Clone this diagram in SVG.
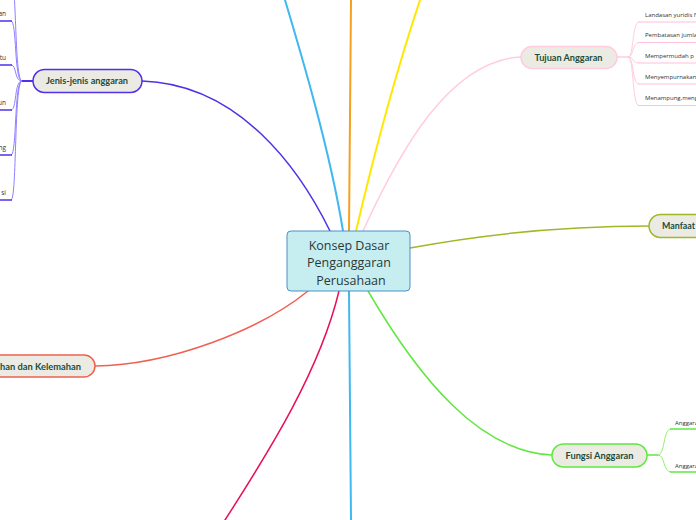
<svg xmlns="http://www.w3.org/2000/svg" width="696" height="520" viewBox="0 0 696 520">
<style>
.conn{fill:none;stroke-linecap:round}
.node rect{fill:#ebebe3;stroke-width:1.5}
.lbl{font-family:Lato,"Open Sans",sans-serif;font-weight:bold;font-size:9px;fill:#1d4d3c;text-anchor:middle}
.sub{font-family:"Open Sans","Liberation Sans",sans-serif;font-size:6px;fill:#333}
.center{font-family:"Open Sans","Liberation Sans",sans-serif;font-size:12.5px;fill:#2b3838;text-anchor:middle}
</style>
<rect width="696" height="520" fill="#ffffff"/>
<g id="connectors">
  <path class="conn" d="M330,231 C300,170 240,84 142,81" stroke="#5030e8" stroke-width="1.5"/>
  <path class="conn" d="M343,231 C330,150 300,50 285,0" stroke="#40b8f0" stroke-width="2"/>
  <path class="conn" d="M349,231 L351,0" stroke="#f5a020" stroke-width="2"/>
  <path class="conn" d="M356,231 C375,150 400,60 420,0" stroke="#ffe800" stroke-width="2"/>
  <path class="conn" d="M363,231 C400,150 450,60 521,57" stroke="#ffcce0" stroke-width="1.5"/>
  <path class="conn" d="M410,248 C480,235 560,226 649,226" stroke="#a0b828" stroke-width="1.5"/>
  <path class="conn" d="M368,291 C420,380 480,452 552,455" stroke="#60e840" stroke-width="1.5"/>
  <path class="conn" d="M308,291 C260,330 170,365 95,366" stroke="#f06050" stroke-width="1.5"/>
  <path class="conn" d="M339,291 C320,370 270,450 225,520" stroke="#e8105a" stroke-width="1.5"/>
  <path class="conn" d="M349,291 L351,520" stroke="#40b8f0" stroke-width="2"/>
  <!-- Jenis children -->
  <path class="conn" d="M33,81 L22,81" stroke="#5030e8" stroke-width="2"/>
  <g stroke="#8f80ff" stroke-width="1" fill="none">
    <path d="M22,81 C14,81 17,-30 10,-30"/>
    <path d="M22,81 C14,81 17,21 11,21"/>
    <path d="M22,81 C14,81 17,65 11,65"/>
    <path d="M22,81 C14,81 17,110 11,110"/>
    <path d="M22,81 C14,81 17,155 11,155"/>
    <path d="M22,81 C14,81 17,200 11,200"/>
  </g>
  <g stroke="#5030e8" stroke-width="1.5" fill="none">
    <path d="M0,21 H12"/><path d="M0,65 H12"/><path d="M0,110 H12"/><path d="M0,155 H12"/><path d="M0,200 H12"/>
  </g>
  <!-- Tujuan children -->
  <path class="conn" d="M617,57 L628,57" stroke="#ffcce0" stroke-width="1.5"/>
  <g stroke="#ffcce0" stroke-width="1" fill="none">
    <path d="M628,57 C634,57 632,22 639,22"/>
    <path d="M628,57 C634,57 632,42.5 639,42.5"/>
    <path d="M628,57 C634,57 632,63 639,63"/>
    <path d="M628,57 C634,57 632,84 639,84"/>
    <path d="M628,57 C634,57 632,105.5 639,105.5"/>
  </g>
  <g stroke="#ffc0dc" stroke-width="1.2" fill="none">
    <path d="M638,22 H696"/><path d="M638,42.5 H696"/><path d="M638,63 H696"/><path d="M638,84 H696"/><path d="M638,105.5 H696"/>
  </g>
  <!-- Fungsi children -->
  <path class="conn" d="M647,455 L658,455" stroke="#60e840" stroke-width="1.5"/>
  <g stroke="#90f070" stroke-width="1" fill="none">
    <path d="M658,455 C665,455 663,429 671,429"/>
    <path d="M658,455 C665,455 663,472 671,472"/>
  </g>
  <g stroke="#60e840" stroke-width="1.5" fill="none">
    <path d="M670,429 H696"/><path d="M670,472 H696"/>
  </g>
</g>
<g id="center">
  <rect x="287" y="231" width="123" height="60" rx="4" fill="#c6eef0" stroke="#4a90c8" stroke-width="1"/>
  <text class="center" x="349" y="249.5">Konsep Dasar</text>
  <text class="center" x="349" y="267">Penganggaran</text>
  <text class="center" x="351" y="284.5">Perusahaan</text>
</g>
<g id="jenis" class="node">
  <rect x="33" y="69.5" width="109" height="23" rx="11.5" stroke="#5030e8"/>
  <text class="lbl" x="87" y="84.3" textLength="82" lengthAdjust="spacingAndGlyphs">Jenis-jenis anggaran</text>
</g>
<g id="jenis-children" class="sub">
  <text x="6" y="15.5" text-anchor="end" font-size="6.5">an</text>
  <text x="6" y="60" text-anchor="end" font-size="6.5">tu</text>
  <text x="6" y="105" text-anchor="end" font-size="6.5">un</text>
  <text x="6" y="150" text-anchor="end" font-size="6.5">ng</text>
  <text x="6" y="195" text-anchor="end" font-size="6.5">si</text>
</g>
<g id="tujuan" class="node">
  <rect x="521" y="46.5" width="96" height="22" rx="11" stroke="#ffcce0"/>
  <text class="lbl" x="568.5" y="60.8" textLength="68" lengthAdjust="spacingAndGlyphs">Tujuan Anggaran</text>
</g>
<g id="tujuan-children" class="sub">
  <text x="645" y="17">Landasan yuridis f</text>
  <text x="645" y="37">Pembatasan jumla</text>
  <text x="645" y="57.5">Mempermudah  p</text>
  <text x="645" y="78.5">Menyempurnakan</text>
  <text x="645" y="100">Menampung,meng</text>
</g>
<g id="manfaat" class="node">
  <rect x="649" y="214.5" width="80" height="23" rx="11.5" stroke="#a0b828"/>
  <text class="lbl" x="662" y="229.3" style="text-anchor:start" textLength="33" lengthAdjust="spacingAndGlyphs">Manfaat</text>
</g>
<g id="fungsi" class="node">
  <rect x="552" y="444" width="95" height="23" rx="11.5" stroke="#60e840"/>
  <text class="lbl" x="599.5" y="458.8" textLength="68" lengthAdjust="spacingAndGlyphs">Fungsi Anggaran</text>
</g>
<g id="fungsi-children" class="sub">
  <text x="675" y="425">Anggaran</text>
  <text x="675" y="468">Anggaran</text>
</g>
<g id="kelemahan" class="node">
  <rect x="-40" y="355" width="135" height="22" rx="11" stroke="#f06050"/>
  <text class="lbl" x="81" y="369.5" style="text-anchor:end" textLength="81" lengthAdjust="spacingAndGlyphs">han dan Kelemahan</text>
</g>
</svg>
